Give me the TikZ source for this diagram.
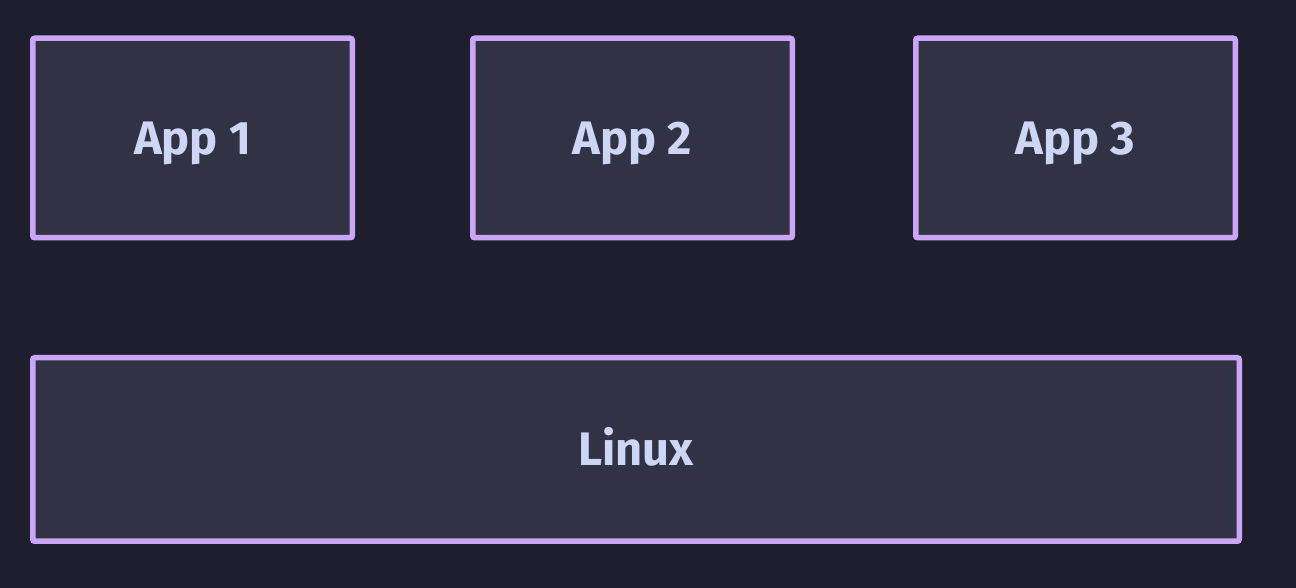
\documentclass[tikz,border=0pt]{standalone}
\usepackage{fontspec}
\setmainfont{Fira Sans}
\definecolor{bgc}{HTML}{1E1E2E}
\definecolor{boxfill}{HTML}{313244}
\definecolor{boxline}{HTML}{CBA6F7}
\definecolor{txt}{HTML}{CDD6F4}
\begin{document}
\begin{tikzpicture}[x=1pt,y=1pt,
  layerbox/.style={draw=boxline, fill=boxfill, line width=5.5pt, rounded corners=2pt,
    text=txt, font=\fontsize{47}{52}\selectfont\bfseries, inner sep=0pt,
    text height=32.4pt, text depth=0pt, anchor=center}]
\fill[bgc] (0,0) rectangle (1296,588);
\useasboundingbox (0,0) rectangle (1296,588);
\node[layerbox, minimum width=319.5pt, minimum height=199.5pt] (app1) at (192.5,450) {App 1};
\node[layerbox, minimum width=319.5pt, minimum height=199.5pt] (app2) at (632.5,450) {App 2};
\node[layerbox, minimum width=319.5pt, minimum height=199.5pt] (app3) at (1075.5,450) {App 3};
\node[layerbox, minimum width=1206.5pt, minimum height=183.5pt] (linux) at (636,138.5) {Linux};
\end{tikzpicture}
\end{document}
